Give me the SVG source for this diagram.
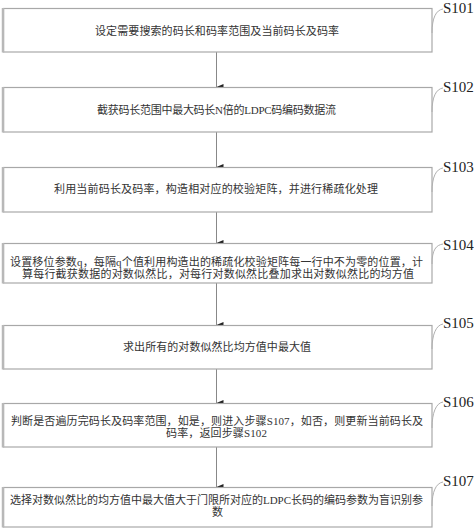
<svg xmlns="http://www.w3.org/2000/svg" width="474" height="529" viewBox="0 0 474 529">
<defs>
<style>
.box{fill:#fff;stroke:#a8a8a8;stroke-width:1.2}
.edge{stroke:#b8b8b8;stroke-width:2.5}
.t{font-family:"Liberation Serif","Noto Sans CJK SC",serif;font-size:11px;fill:#333}
.lbl{font-family:"Liberation Serif","Noto Sans CJK SC",serif;font-size:15px;fill:#222}
.lead{fill:none;stroke:#b0b0b0;stroke-width:1}
.arr{stroke:#888;stroke-width:1;fill:none;marker-end:url(#ah)}
</style>
<marker id="ah" markerWidth="6" markerHeight="7" refX="3" refY="7" orient="auto" markerUnits="userSpaceOnUse" viewBox="0 0 6 7">
<path d="M0,0 L6,0 L3,7 Z" fill="#222"/>
</marker>
</defs>
<rect width="474" height="529" fill="#fff"/>
<g id="connectors">
<line class="arr" x1="216.5" y1="52" x2="216.5" y2="87"/>
<line class="arr" x1="216.5" y1="132" x2="216.5" y2="167"/>
<line class="arr" x1="216.5" y1="212" x2="216.5" y2="243"/>
<line class="arr" x1="216.5" y1="283" x2="216.5" y2="325"/>
<line class="arr" x1="216.5" y1="369" x2="216.5" y2="403"/>
<line class="arr" x1="216.5" y1="447" x2="216.5" y2="487"/>
</g>
<g id="S101">
<rect class="box" x="3.5" y="8.5" width="428.5" height="43.5"/>
<line class="edge" x1="3" y1="8" x2="3" y2="52.5"/>
<text class="t" x="95" y="35" textLength="244" lengthAdjust="spacing">设定需要搜索的码长和码率范围及当前码长及码率</text>
<path class="lead" d="M432,33 C432,18 436,10 443,9"/>
<text class="lbl" x="443" y="13">S101</text>
</g>
<g id="S102">
<rect class="box" x="3.5" y="87.5" width="428.5" height="44.5"/>
<line class="edge" x1="3" y1="87" x2="3" y2="132.5"/>
<text class="t" x="97" y="114" textLength="239" lengthAdjust="spacing">截获码长范围中最大码长N倍的LDPC码编码数据流</text>
<path class="lead" d="M432,112 C432,97 436,89 443,88"/>
<text class="lbl" x="443" y="92">S102</text>
</g>
<g id="S103">
<rect class="box" x="3.5" y="167.5" width="428.5" height="44.5"/>
<line class="edge" x1="3" y1="167" x2="3" y2="212.5"/>
<text class="t" x="54" y="193" textLength="324" lengthAdjust="spacing">利用当前码长及码率，构造相对应的校验矩阵，并进行稀疏化处理</text>
<path class="lead" d="M432,192 C432,177 436,169 443,168"/>
<text class="lbl" x="443" y="172">S103</text>
</g>
<g id="S104">
<rect class="box" x="3.5" y="243.5" width="428.5" height="39.5"/>
<line class="edge" x1="3" y1="243" x2="3" y2="283.5"/>
<text class="t" x="10" y="266" textLength="413" lengthAdjust="spacing">设置移位参数q，每隔q个值利用构造出的稀疏化校验矩阵每一行中不为零的位置，计</text>
<text class="t" x="22" y="278" textLength="392" lengthAdjust="spacing">算每行截获数据的对数似然比，对每行对数似然比叠加求出对数似然比的均方值</text>
<path class="lead" d="M432,264 C432,250 436,245 443,244"/>
<text class="lbl" x="443" y="250">S104</text>
</g>
<g id="S105">
<rect class="box" x="3.5" y="325.5" width="428.5" height="43.5"/>
<line class="edge" x1="3" y1="325" x2="3" y2="369.5"/>
<text class="t" x="123" y="351" textLength="188" lengthAdjust="spacing">求出所有的对数似然比均方值中最大值</text>
<path class="lead" d="M432,349 C432,335 436,325 443,324"/>
<text class="lbl" x="443" y="328">S105</text>
</g>
<g id="S106">
<rect class="box" x="3.5" y="403.5" width="428.5" height="43.5"/>
<line class="edge" x1="3" y1="403" x2="3" y2="447.5"/>
<text class="t" x="11" y="425" textLength="412" lengthAdjust="spacing">判断是否遍历完码长及码率范围，如是，则进入步骤S107，如否，则更新当前码长及</text>
<text class="t" x="166" y="437" textLength="101" lengthAdjust="spacing">码率，返回步骤S102</text>
<path class="lead" d="M432,428 C432,413 436,403 443,402"/>
<text class="lbl" x="443" y="407">S106</text>
</g>
<g id="S107">
<rect class="box" x="3.5" y="487.5" width="428.5" height="39.5"/>
<line class="edge" x1="3" y1="487" x2="3" y2="527.5"/>
<text class="t" x="10" y="504" textLength="413" lengthAdjust="spacing">选择对数似然比的均方值中最大值大于门限所对应的LDPC长码的编码参数为盲识别参</text>
<text class="t" x="212" y="516">数</text>
<path class="lead" d="M432,506 C432,492 436,483 443,482"/>
<text class="lbl" x="443" y="486">S107</text>
</g>
</svg>
